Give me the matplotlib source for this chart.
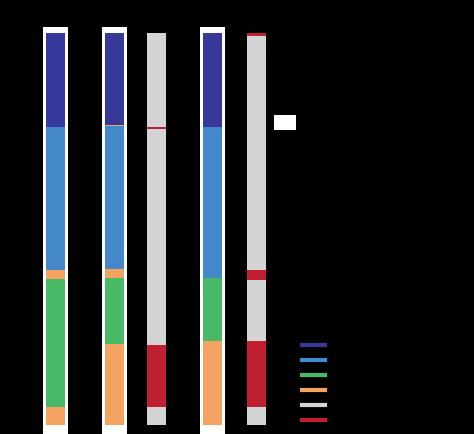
import matplotlib.pyplot as plt
from matplotlib.patches import Rectangle
from matplotlib.lines import Line2D

# colours per category
colors = {
    'A': '#37399a',
    'B': '#4389c9',
    'C': '#48b966',
    'D': '#f4a460',
    'E': '#d3d4d6',
    'F': '#c01f32',
}
legend_names = ['A', 'B', 'C', 'D', 'E', 'F']

# stacked segments, bottom to top (category, percent)
bar1 = [('D', 4.6), ('C', 32.6), ('D', 2.3), ('B', 36.5), ('A', 24.0)]
bar2 = [('D', 20.7), ('C', 16.8), ('D', 2.3), ('B', 36.5), ('D', 0.3), ('A', 23.4)]
bar3 = [('E', 4.6), ('F', 15.8), ('E', 55.1), ('F', 0.6), ('E', 23.9)]
bar4 = [('D', 21.4), ('C', 16.1), ('B', 38.5), ('A', 24.0)]
bar5 = [('E', 4.6), ('F', 16.8), ('E', 15.6), ('F', 2.6), ('E', 59.7), ('F', 0.7)]
bars = [bar1, bar2, bar3, bar4, bar5]
boxed = [True, True, False, True, False]

x_pos = [56, 115, 157, 213, 257]
bar_w = 19

fig = plt.figure(figsize=(4.74, 4.35), dpi=100, facecolor='black')
ax = fig.add_axes([0, 9 / 435, 1, 392 / 435])
ax.set_facecolor('black')
ax.set_xlim(0, 474)
ax.set_ylim(0, 100)
ax.axis('off')

for x, segs, box in zip(x_pos, bars, boxed):
    if box:
        ax.add_patch(Rectangle((x - bar_w / 2 - 3, -3), bar_w + 6, 104.5,
                               facecolor='white', edgecolor='none', clip_on=False))
    bottom = 0
    for cat, v in segs:
        ax.bar(x, v, width=bar_w, bottom=bottom, color=colors[cat], linewidth=0)
        bottom += v

# small white box
ax.add_patch(Rectangle((274, 75.3), 22, 3.8, facecolor='white', edgecolor='none'))

handles = [Line2D([], [], color=colors[n], lw=3) for n in legend_names]
ax.legend(handles, legend_names, loc='upper left', bbox_to_anchor=(0.615, 0.24),
          frameon=False, handlelength=2.1, labelspacing=0.45, fontsize=8,
          labelcolor='black')

fig.savefig('out.png', dpi=100, facecolor='black')
